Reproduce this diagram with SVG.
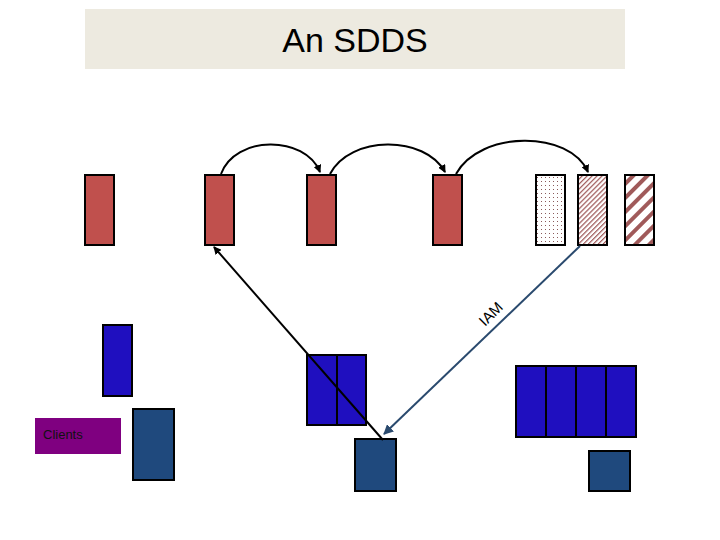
<svg xmlns="http://www.w3.org/2000/svg" width="720" height="540" viewBox="0 0 720 540">
<style>
.s{fill:#C0504D;stroke:#000;stroke-width:2}
.c{fill:#1F0FBF;stroke:#000;stroke-width:2}
.d{fill:#1F497D;stroke:#000;stroke-width:2}
.arc{fill:none;stroke:#000;stroke-width:2}
</style>
<defs>
<pattern id="dots" width="4" height="4" patternUnits="userSpaceOnUse"><rect width="4" height="4" fill="#fff"/><rect x="1" y="1" width="1" height="1" fill="#8a5a5a"/></pattern>
<pattern id="fine" width="3.5" height="3.5" patternUnits="userSpaceOnUse" patternTransform="rotate(45)"><rect width="3.5" height="3.5" fill="#fff"/><rect width="1.2" height="3.5" fill="#9C5555"/></pattern>
<pattern id="wide" width="10" height="10" patternUnits="userSpaceOnUse" patternTransform="rotate(45)"><rect width="10" height="10" fill="#fff"/><rect width="4" height="10" fill="#A05A5A"/></pattern>
<marker id="ah" markerWidth="8" markerHeight="8" refX="7" refY="4" orient="auto" markerUnits="userSpaceOnUse"><path d="M0,0 L8,4 L0,8 z" fill="#000"/></marker>
<marker id="ab" markerWidth="10" markerHeight="10" refX="9" refY="5" orient="auto" markerUnits="userSpaceOnUse"><path d="M0,0 L10,5 L0,10 z" fill="#2A4A6E"/></marker>
</defs>
<g id="title"><rect x="85" y="9" width="540" height="60" fill="#EDEAE0"/><text x="355" y="52" font-family="Liberation Sans, sans-serif" font-size="34" text-anchor="middle">An SDDS</text></g>
<g id="s1"><rect class="s" x="85" y="175" width="29" height="70"/></g>
<g id="s2"><rect class="s" x="205" y="175" width="29" height="70"/></g>
<g id="s3"><rect class="s" x="307" y="175" width="29" height="70"/></g>
<g id="s4"><rect class="s" x="433" y="175" width="29" height="70"/></g>
<g id="s5"><rect x="536" y="175" width="29" height="70" fill="url(#dots)" stroke="#000" stroke-width="2"/></g>
<g id="s6"><rect x="578" y="175" width="29" height="70" fill="url(#fine)" stroke="#000" stroke-width="2"/></g>
<g id="s7"><rect x="625" y="175" width="29" height="70" fill="url(#wide)" stroke="#000" stroke-width="2"/></g>
<g id="c1"><rect class="c" x="103" y="325" width="29" height="71"/></g>
<g id="c2"><rect class="d" x="133" y="409" width="41" height="71"/></g>
<g id="c3"><rect class="c" x="307" y="355" width="30" height="70"/><rect class="c" x="337" y="355" width="29" height="70"/></g>
<g id="c4"><rect class="d" x="355" y="439" width="41" height="52"/></g>
<g id="c5"><rect class="c" x="516" y="366" width="30" height="71"/><rect class="c" x="546" y="366" width="30" height="71"/><rect class="c" x="576" y="366" width="30" height="71"/><rect class="c" x="606" y="366" width="30" height="71"/></g>
<g id="c6"><rect class="d" x="589" y="451" width="41" height="40"/></g>
<g id="clients"><rect x="35" y="418" width="86" height="36" fill="#7F0080"/><text x="43" y="439" font-family="Liberation Sans, sans-serif" font-size="13" fill="#111">Clients</text></g>
<g id="connectors">
<path class="arc" d="M221,174 C235,135 305,135 320,172" marker-end="url(#ah)"/>
<path class="arc" d="M330,174 C350,135 425,135 445,172" marker-end="url(#ah)"/>
<path class="arc" d="M456,174 C480,130 570,130 588,172" marker-end="url(#ah)"/>
<line x1="383" y1="440" x2="214" y2="247" stroke="#000" stroke-width="2" marker-end="url(#ah)"/>
<line x1="580" y1="246" x2="384" y2="434" stroke="#2A4A6E" stroke-width="2" marker-end="url(#ab)"/>
<text x="0" y="0" transform="translate(485,327) rotate(-45)" font-family="Liberation Sans, sans-serif" font-size="15">IAM</text>
</g>
</svg>
